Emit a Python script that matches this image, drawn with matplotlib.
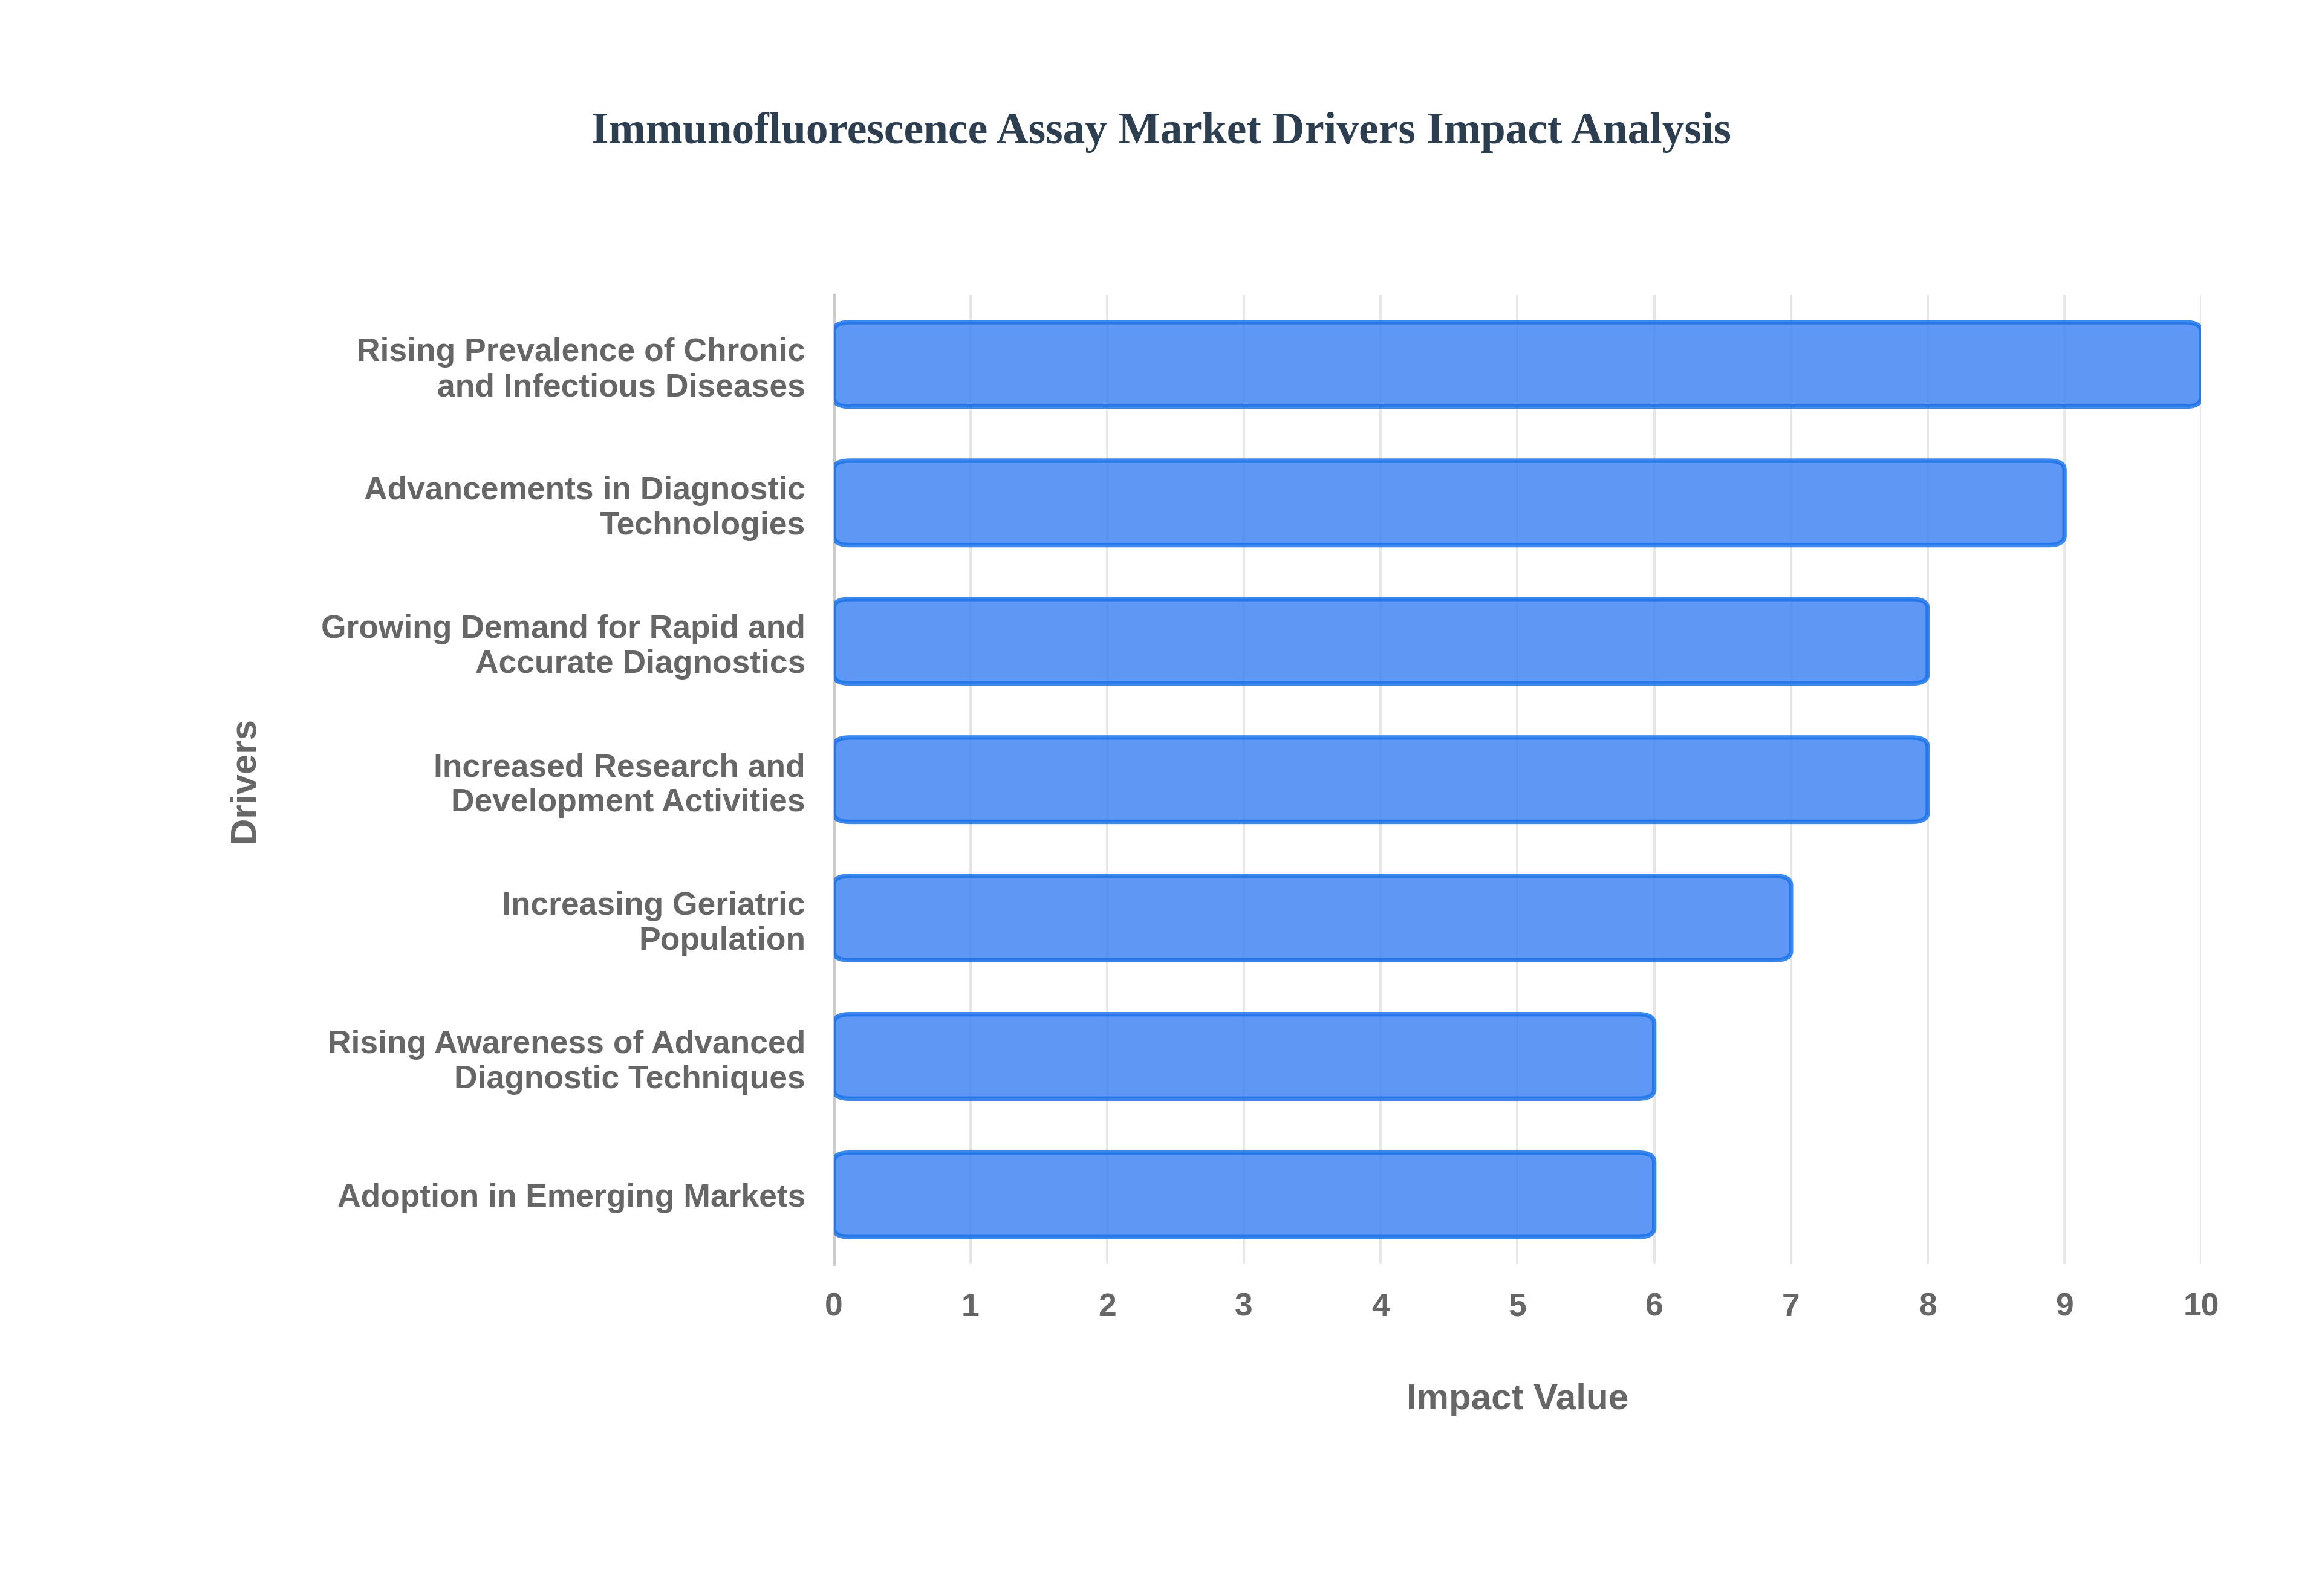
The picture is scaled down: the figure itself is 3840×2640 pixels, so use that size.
import matplotlib.pyplot as plt
from matplotlib.patches import FancyBboxPatch

drivers = [
    "Rising Prevalence of Chronic\nand Infectious Diseases",
    "Advancements in Diagnostic\nTechnologies",
    "Growing Demand for Rapid and\nAccurate Diagnostics",
    "Increased Research and\nDevelopment Activities",
    "Increasing Geriatric\nPopulation",
    "Rising Awareness of Advanced\nDiagnostic Techniques",
    "Adoption in Emerging Markets",
]
impact = [10, 9, 8, 8, 7, 6, 6]

grey = "#666666"
fig = plt.figure(figsize=(16, 11), dpi=240)
ax = fig.add_axes([0.359, 0.208, 0.589, 0.607])

ypos = list(range(len(drivers)))[::-1]
bars = ax.barh(ypos, impact, height=0.61, color="none", edgecolor="none")
# redraw the bars with slightly rounded corners
for b in bars:
    x0, y0, w, h = b.get_x(), b.get_y(), b.get_width(), b.get_height()
    ax.add_patch(FancyBboxPatch((x0, y0), w, h,
                                boxstyle="round,pad=0,rounding_size=0.12",
                                mutation_aspect=0.55,
                                facecolor="#4285f4", alpha=0.85,
                                edgecolor="#1a73e8", linewidth=2.2, zorder=3))

ax.set_xlim(0, 10)
ax.set_ylim(-0.5, 6.5)
ax.set_xticks(range(11))
ax.set_yticks(ypos)
ax.set_yticklabels(drivers)
ax.grid(axis="x", color="#e6e6e6", linewidth=1.2, zorder=0)
ax.set_axisbelow(True)
for s in ["top", "right", "bottom"]:
    ax.spines[s].set_visible(False)
ax.spines["left"].set_color("#cccccc")
ax.spines["left"].set_linewidth(1.5)
ax.tick_params(length=0, pad=14)
for lab in ax.get_xticklabels() + ax.get_yticklabels():
    lab.set_fontfamily("Liberation Sans")
    lab.set_fontweight("bold")
    lab.set_fontsize(16)
    lab.set_color(grey)
for lab in ax.get_yticklabels():
    lab.set_horizontalalignment("right")
    lab.set_multialignment("right")

ax.set_xlabel("Impact Value", fontfamily="Liberation Sans", fontweight="bold",
              fontsize=18, color=grey, labelpad=30)
ax.set_ylabel("Drivers", fontfamily="Liberation Sans", fontweight="bold",
              fontsize=18, color=grey, labelpad=30)

fig.suptitle("Immunofluorescence Assay Market Drivers Impact Analysis",
             x=0.5, y=0.93, fontfamily="Liberation Serif", fontweight="bold",
             fontsize=22, color="#2c3e50")

fig.savefig("out.png", dpi=240, facecolor="white")
